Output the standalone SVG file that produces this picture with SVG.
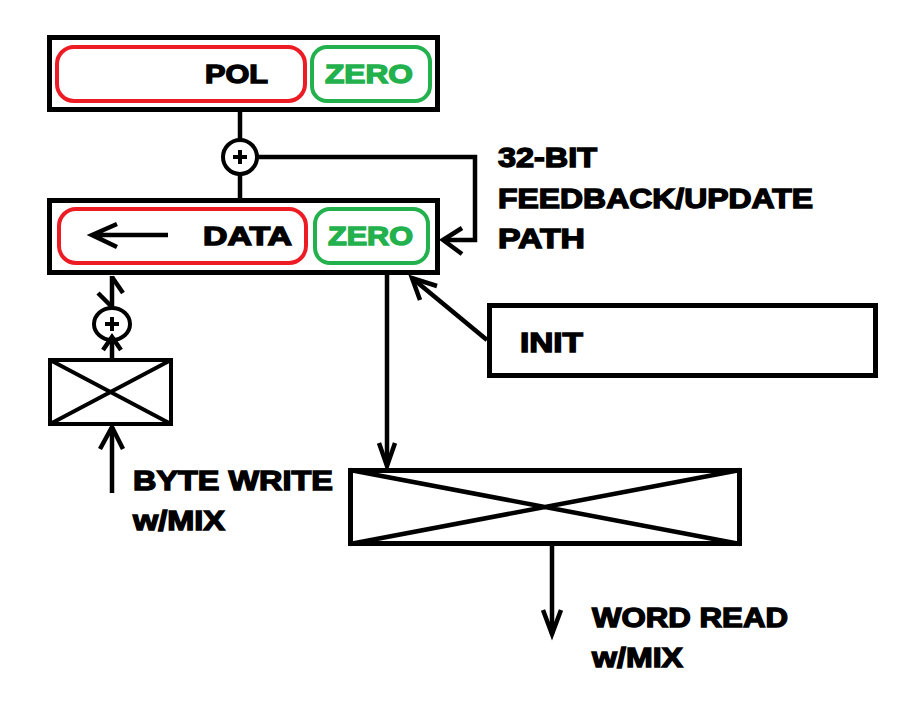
<svg xmlns="http://www.w3.org/2000/svg" width="923" height="707" viewBox="0 0 923 707">
<style>
.box{fill:none;stroke:#000;stroke-width:5}
.red{fill:none;stroke:#ed1c24;stroke-width:4}
.grn{fill:none;stroke:#22b14c;stroke-width:4}
.ln{fill:none;stroke:#000;stroke-width:4.5;stroke-linecap:butt;stroke-linejoin:miter}
.ah{fill:none;stroke:#000;stroke-width:4.5;stroke-linecap:butt;stroke-linejoin:miter}
.t{font-family:"Liberation Sans",Arial,sans-serif;font-weight:bold;font-size:28px;fill:#000;stroke:#000;stroke-width:1.4}
.tb{font-family:"Liberation Sans",Arial,sans-serif;font-weight:bold;font-size:26px;fill:#000;stroke:#000;stroke-width:1.4}
.tg{font-family:"Liberation Sans",Arial,sans-serif;font-weight:bold;font-size:26px;fill:#22b14c;stroke:#22b14c;stroke-width:1.4}
</style>
<rect width="923" height="707" fill="#fff"/>
<g id="pol">
<rect class="box" x="49.5" y="37.5" width="388" height="72"/>
<rect class="red" x="57" y="47" width="248" height="54" rx="17"/>
<rect class="grn" x="312" y="47" width="118" height="54" rx="15"/>
<text class="tb" x="205" y="83" textLength="63" lengthAdjust="spacingAndGlyphs">POL</text>
<text class="tg" x="325" y="83" textLength="88" lengthAdjust="spacingAndGlyphs">ZERO</text>
</g>
<g id="data">
<rect class="box" x="49.5" y="200.5" width="388" height="72"/>
<rect class="red" x="59" y="209" width="247" height="54" rx="17"/>
<rect class="grn" x="315" y="209" width="113" height="54" rx="15"/>
<path class="ln" d="M168,235 H92 M117,224 L92,235 L117,247"/>
<text class="tb" x="203" y="245" textLength="89" lengthAdjust="spacingAndGlyphs">DATA</text>
<text class="tg" x="328" y="245" textLength="85" lengthAdjust="spacingAndGlyphs">ZERO</text>
</g>
<g id="xor-top">
<circle cx="240" cy="157" r="17" fill="#fff" stroke="#000" stroke-width="4"/>
<path d="M233,157 H247 M240,150 V164" stroke="#000" stroke-width="4"/>
</g>
<g id="xor-byte">
<ellipse cx="112" cy="324" rx="18" ry="16" fill="#fff" stroke="#000" stroke-width="4"/>
<path d="M105,324 H119 M112,317 V331" stroke="#000" stroke-width="4"/>
</g>
<g id="byte-mux">
<rect x="50" y="360" width="121" height="64" fill="none" stroke="#000" stroke-width="4"/>
<path d="M50,360 L171,424 M171,360 L50,424" stroke="#000" stroke-width="4"/>
</g>
<g id="word-mux">
<rect class="box" x="350.5" y="470.5" width="389" height="73"/>
<path d="M350,470 L740,544 M740,470 L350,544" stroke="#000" stroke-width="4.5"/>
</g>
<g id="init">
<rect class="box" x="489.5" y="305.5" width="386" height="70"/>
<text class="t" x="520" y="352" textLength="63" lengthAdjust="spacingAndGlyphs">INIT</text>
</g>
<g id="connectors">
<path class="ln" d="M240,112 V140"/>
<path class="ln" d="M240,174 V198"/>
<path class="ln" d="M257,157 H475 V240 H443"/>
<path class="ah" d="M462,228 L443,240 L462,254"/>
<path class="ln" d="M487,340 L412,278"/>
<path class="ah" d="M420,300 L412,278 L437,286"/>
<path class="ln" d="M387,275 V465"/>
<path class="ah" d="M379,443 L387,466 L395,443"/>
<path class="ln" d="M552,546 V634"/>
<path class="ah" d="M543,610 L552,634 L561,610"/>
<path class="ln" d="M112,493 V427"/>
<path class="ah" d="M100,449 L112,427 L123,449"/>
<path class="ln" d="M112,360 V341"/>
<path class="ah" d="M103,350 L112,337 L121,350"/>
<path class="ln" d="M112,308 V276"/>
<path class="ah" d="M98,293 L112,307 M112,277 L123,293"/>
</g>
<g id="labels">
<text class="t" x="498" y="167" textLength="99" lengthAdjust="spacingAndGlyphs">32-BIT</text>
<text class="t" x="498" y="208" textLength="315" lengthAdjust="spacingAndGlyphs">FEEDBACK/UPDATE</text>
<text class="t" x="498" y="248" textLength="87" lengthAdjust="spacingAndGlyphs">PATH</text>
<text class="t" x="133" y="490" textLength="200" lengthAdjust="spacingAndGlyphs">BYTE WRITE</text>
<text class="t" x="133" y="530" textLength="92" lengthAdjust="spacingAndGlyphs">w/MIX</text>
<text class="t" x="592" y="627" textLength="196" lengthAdjust="spacingAndGlyphs">WORD READ</text>
<text class="t" x="592" y="667" textLength="91" lengthAdjust="spacingAndGlyphs">w/MIX</text>
</g>
</svg>
